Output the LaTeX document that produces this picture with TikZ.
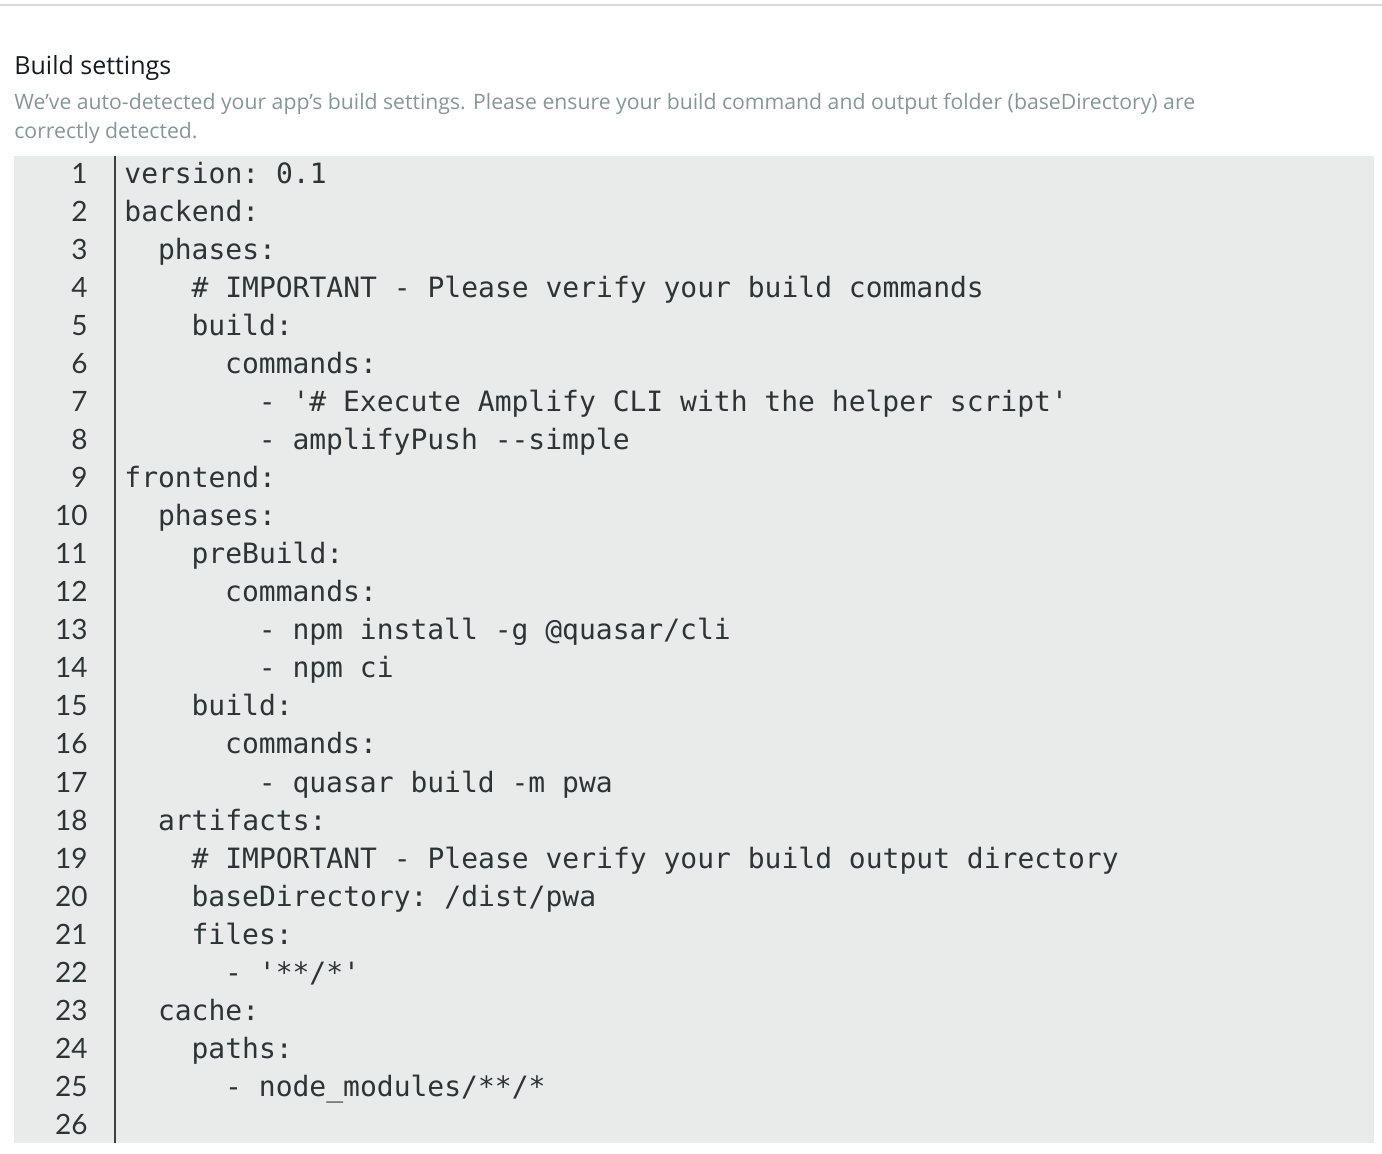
\documentclass[tikz,border=0pt]{standalone}
\usepackage{fontspec}
\setmainfont{Open Sans}
\setmonofont{DejaVu Sans Mono}
\newfontfamily\lnfont{Lato}
\definecolor{boxbg}{HTML}{E9EBEB}
\definecolor{codefg}{HTML}{2E3436}
\definecolor{subfg}{HTML}{879596}
\definecolor{titlefg}{HTML}{16191F}
\tikzset{codetxt/.style={anchor=base west,inner sep=0pt,text=codefg,font=\ttfamily\fontsize{14}{16}\selectfont},
lnum/.style={anchor=base east,inner sep=0pt,text=codefg,font=\lnfont\fontsize{14}{16}\selectfont}}
\newcommand{\cl}[3]{\node[lnum] (n#1) at (88,{184+38*(#1-1)}) {#1};
\node[codetxt] (c#1) at ({124+16.8*#2},{184+38*(#1-1)}) {#3};}
\begin{document}
\begin{tikzpicture}[x=0.5pt,y=-0.5pt]
\useasboundingbox (0,0) rectangle (1382,1154);
\draw[line width=1pt,color=black!15] (0,5) -- (1382,5);
\node[anchor=base west,inner sep=0pt,text=titlefg,font=\fontsize{12.5}{15}\selectfont] (title) at (14,75) {Build settings};
\node[anchor=base west,inner sep=0pt,text=subfg,font=\fontsize{10.6}{13}\selectfont] (sub1) at (14,110) {We've auto-detected your app's build settings. Please ensure your build command and output folder (baseDirectory) are};
\node[anchor=base west,inner sep=0pt,text=subfg,font=\fontsize{10.6}{13}\selectfont] (sub2) at (14,139) {correctly detected.};
\fill[boxbg] (14,156) rectangle (1374,1143);
\draw[line width=1pt,color=black!75] (115,156) -- (115,1143);
\cl{1}{0}{version: 0.1}
\cl{2}{0}{backend:}
\cl{3}{2}{phases:}
\cl{4}{4}{\# IMPORTANT - Please verify your build commands}
\cl{5}{4}{build:}
\cl{6}{6}{commands:}
\cl{7}{8}{- \textquotesingle\# Execute Amplify CLI with the helper script\textquotesingle}
\cl{8}{8}{- amplifyPush -{}-simple}
\cl{9}{0}{frontend:}
\cl{10}{2}{phases:}
\cl{11}{4}{preBuild:}
\cl{12}{6}{commands:}
\cl{13}{8}{- npm install -g @quasar/cli}
\cl{14}{8}{- npm ci}
\cl{15}{4}{build:}
\cl{16}{6}{commands:}
\cl{17}{8}{- quasar build -m pwa}
\cl{18}{2}{artifacts:}
\cl{19}{4}{\# IMPORTANT - Please verify your build output directory}
\cl{20}{4}{baseDirectory: /dist/pwa}
\cl{21}{4}{files:}
\cl{22}{6}{- \textquotesingle**/*\textquotesingle}
\cl{23}{2}{cache:}
\cl{24}{4}{paths:}
\cl{25}{6}{- node\_modules/**/*}
\node[lnum] (n26) at (88,{184+38*25}) {26};
\end{tikzpicture}
\end{document}
